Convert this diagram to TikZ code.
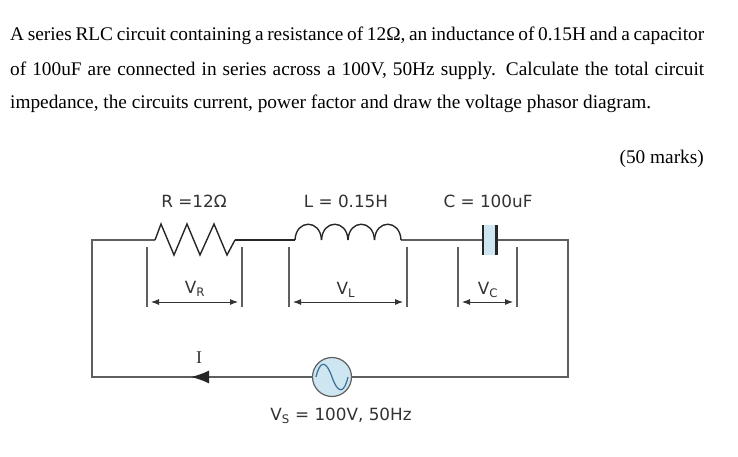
\documentclass[tikz,border=0pt]{standalone}
\usepackage{xcolor}
\usepackage{fontspec}
\setmainfont{Liberation Serif}
\setsansfont{DejaVu Sans}
\usetikzlibrary{positioning,calc,arrows.meta}

\begin{document}
\begin{tikzpicture}[x=1pt,y=-1pt,line cap=butt]
	\definecolor{wirecolor}{RGB}{95,95,95}
	\definecolor{fillcolor}{RGB}{205,230,242}
	\definecolor{sinecolor}{RGB}{60,110,150}
	\definecolor{labelcolor}{RGB}{50,50,50}
	\tikzstyle{wire}=[draw=wirecolor, line width=1.3pt]
	\tikzstyle{element}=[draw=black!85, line width=1.4pt]
	\tikzstyle{bracket}=[draw=wirecolor, line width=1.2pt]
	\tikzstyle{span}=[draw=black!80, line width=0.9pt, {Latex[length=8pt,width=6pt]}-{Latex[length=8pt,width=6pt]}]
	\tikzstyle{label}=[inner sep=0pt, text=labelcolor, font=\sffamily\fontsize{16.8}{20}\selectfont]
	\tikzstyle{body}=[inner sep=0pt, anchor=base west, font=\fontsize{19.3}{23}\selectfont]
	\def\textwide{694pt}
	\useasboundingbox (0,0) rectangle (738,457);

	% Draw the question text
	\node[body] (line-1) at (10,41) {\makebox[\textwide][s]{A series RLC circuit containing a resistance of 12Ω, an inductance of 0.15H and a capacitor}};
	\node[body] (line-2) at (10,76) {\makebox[\textwide][s]{of 100uF are connected in series across a 100V, 50Hz supply. Calculate the total circuit}};
	\node[body] (line-3) at (10,109) {impedance, the circuits current, power factor and draw the voltage phasor diagram.};
	\node[body, anchor=base east] (marks) at (704,164) {(50 marks)};

	% Corners of the loop and the ends of the elements
	\coordinate (TL) at (92,240);
	\coordinate (TR) at (568,240);
	\coordinate (BL) at (92,377);
	\coordinate (BR) at (568,377);
	\coordinate (R-in) at (155,240);
	\coordinate (R-out) at (235,240);
	\coordinate (L-in) at (295,240);
	\coordinate (L-out) at (401,240);
	\node[minimum width=13pt, minimum height=30pt, inner sep=0pt, fill=fillcolor] (C) at (489.5,240) {};
	\node[circle, minimum size=39pt, inner sep=0pt, draw=wirecolor, line width=1.2pt, fill=fillcolor] (Vs) at (332,377) {};
	\coordinate (I-tail) at (209,377);
	\coordinate (I-tip) at (191,377);

	% Draw the wires
	\draw[wire] (R-in) -- (TL) -- (BL) -- (Vs);
	\draw[wire] (Vs) -- (BR) -- (TR) -- (C);
	\draw[element] (R-out) -- (L-in);
	\draw[wire] (L-out) -- (C);
	\draw[element, -{Latex[length=18pt,width=13pt]}] (I-tail) -- (I-tip);

	% Draw the resistor
	\draw[element, line join=miter] (R-in) -- ++(6,-16) -- ++(13,31) -- ++(13,-31) -- ++(13,31) -- ++(14,-31) -- ++(13,31) -- (R-out);
	% Draw the inductor
	\foreach \turn in {0,1,2,3}
	 \draw[element] ($(L-in)+(\turn*26.5,0)$) .. controls +(1,-21) and +(-1,-21) .. +(26.5,0);
	% Draw the capacitor plates
	\draw[element, line width=2.6pt] (C.north west) -- (C.south west);
	\draw[element, line width=2.6pt] (C.north east) -- (C.south east);
	% Draw the sine wave of the source
	\draw[draw=sinecolor, line width=1.2pt] ($(Vs)+(-16,0)$) .. controls +(4,-17) and +(-6,-17) .. (Vs.center) .. controls +(6,17) and +(-4,17) .. ($(Vs)+(16,0)$);

	% Draw the voltage brackets
	\foreach \name/\xa/\xb in {R/147/242,L/289/407,C/458/517} {
	 \coordinate (\name-a) at (\xa,247);
	 \coordinate (\name-b) at (\xb,247);
	 \coordinate (\name-c) at (\xa,307);
	 \coordinate (\name-d) at (\xb,307);
	 \draw[bracket] (\name-a) -- (\name-c);
	 \draw[bracket] (\name-b) -- (\name-d);
	 \draw[span] ($(\name-c)+(4,-5)$) -- ($(\name-d)+(-4,-5)$);
	}

	% Draw the labels
	\node[label] (R-label) at (194,201) {R =12Ω};
	\node[label] (L-label) at (346,201) {L = 0.15H};
	\node[label] (C-label) at (488,201) {C = 100uF};
	\node[label] (VR-label) at (195,289) {V\textsubscript{R}};
	\node[label] (VL-label) at (346,290) {V\textsubscript{L}};
	\node[label] (VC-label) at (488,290) {V\textsubscript{C}};
	\node[label, font=\fontsize{18}{20}\selectfont] (I-label) at (199,358) {I};
	\node[label] (Vs-label) at (341,416) {V\textsubscript{S} = 100V, 50Hz};
\end{tikzpicture}
\end{document}
